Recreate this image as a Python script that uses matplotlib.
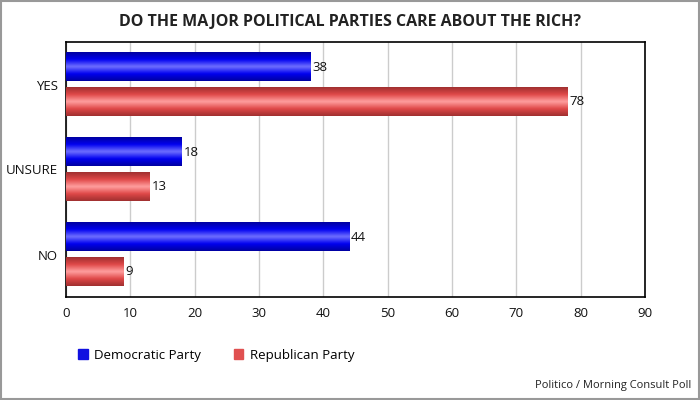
import numpy as np
import matplotlib
matplotlib.use("Agg")
import matplotlib.pyplot as plt
from matplotlib.colors import LinearSegmentedColormap
from matplotlib.patches import Rectangle

plt.rcParams['font.family'] = ['Open Sans', 'DejaVu Sans']

categories = ['NO', 'UNSURE', 'YES']
democratic = [44, 18, 38]
republican = [9, 13, 78]
series_names = ['Democratic Party', 'Republican Party']

blue_cmap = LinearSegmentedColormap.from_list('b', ['#0000a0', '#0000f0', '#7070ff', '#0000f0', '#0000a0'])
red_cmap = LinearSegmentedColormap.from_list('r', ['#a03030', '#e04848', '#ffa0a0', '#e04848', '#a03030'])

fig = plt.figure(figsize=(7, 4), dpi=100)
ax = fig.add_axes([66 / 700, 103 / 400, 579 / 700, 255 / 400])

y = np.arange(len(categories))
h = 0.33
off = 0.205


def glossy(bars, cmap):
    grad = np.linspace(0, 1, 64).reshape(-1, 1)
    for b in bars:
        x0, y0 = b.get_x(), b.get_y()
        w, hh = b.get_width(), b.get_height()
        ax.imshow(grad, cmap=cmap, aspect='auto', extent=[x0, x0 + w, y0, y0 + hh],
                  interpolation='bicubic', zorder=3)


b1 = ax.barh(y + off, democratic, height=h, color='#0000e0', zorder=2)
b2 = ax.barh(y - off, republican, height=h, color='#e04848', zorder=2)
glossy(b1, blue_cmap)
glossy(b2, red_cmap)

for bars, vals in ((b1, democratic), (b2, republican)):
    for b, v in zip(bars, vals):
        ax.text(b.get_width() + 0.3, b.get_y() + b.get_height() / 2, str(v),
                va='center', ha='left', fontsize=9.5, color='#111111', zorder=4)

ax.set_xlim(0, 90)
ax.set_ylim(-0.5, 2.5)
ax.set_xticks(range(0, 91, 10))
ax.set_yticks(y)
ax.set_yticklabels(categories)
ax.tick_params(axis='both', length=0, labelsize=9.5, pad=7, labelcolor='#111111')
ax.tick_params(axis='y', pad=6)
ax.grid(axis='x', color='#cccccc', linewidth=1, zorder=0)
ax.set_axisbelow(True)
for s in ax.spines.values():
    s.set_color('black')
    s.set_linewidth(1.2)

fig.text(0.5, 0.945, 'DO THE MAJOR POLITICAL PARTIES CARE ABOUT THE RICH?',
         ha='center', va='center', fontsize=11.5, fontweight='bold', color='#222222')

# legend
handles = [Rectangle((0, 0), 1, 1, color='#1010e0'), Rectangle((0, 0), 1, 1, color='#e05050')]
fig.legend(handles, series_names, loc='center left', bbox_to_anchor=(0.095, 0.112),
           ncol=2, frameon=False, fontsize=9.5, handlelength=0.7, handleheight=0.7,
           columnspacing=2.5, handletextpad=0.5)

fig.text(0.988, 0.022, 'Politico / Morning Consult Poll', ha='right', va='bottom',
         fontsize=8, color='#222222')

fig.patches.append(Rectangle((0.001, 0.002), 0.997, 0.996, transform=fig.transFigure,
                             fill=False, edgecolor='#999999', linewidth=1.5))

fig.savefig('out.png', dpi=100)
